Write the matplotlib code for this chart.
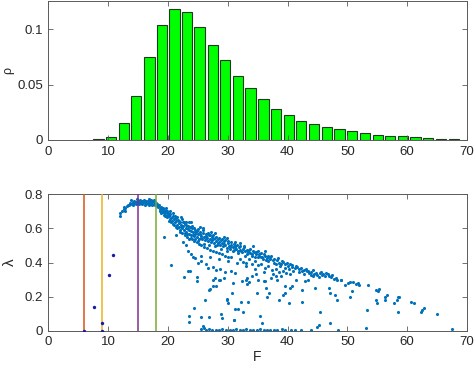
import matplotlib
matplotlib.use("Agg")
import matplotlib.pyplot as plt
import numpy as np

plt.rcParams['font.family'] = ['Liberation Sans', 'DejaVu Sans']

# ---------------- top panel: histogram ----------------
bin_centers = [8.4, 10.5, 12.6, 14.7, 16.9, 19.0, 21.1, 23.2, 25.3, 27.5, 29.6,
               31.7, 33.8, 36.0, 38.1, 40.2, 42.3, 44.4, 46.6, 48.7, 50.8, 52.9,
               55.1, 57.2, 59.3, 61.4, 63.5, 65.7, 67.8]
rho = [0.0005, 0.003, 0.015, 0.040, 0.075, 0.1036, 0.1177, 0.1156, 0.1015,
       0.0853, 0.0724, 0.0574, 0.0468, 0.0366, 0.0279, 0.0222, 0.0174, 0.0141,
       0.0117, 0.0099, 0.0078, 0.0060, 0.0045, 0.0036, 0.0033, 0.0024, 0.0018,
       0.0012, 0.0006]

# ---------------- bottom panel: scatter ----------------
# main band (plateau + decay)
band_F = [11.9, 12.4, 12.6, 12.9, 13.1, 13.3, 13.5, 13.7, 13.6, 14.0, 14.1, 14.3, 14.4, 14.6, 14.7,
          14.9, 15.0, 15.2, 15.3, 15.5, 15.6, 15.7, 15.9, 16.0, 16.1, 16.3, 16.4, 16.6, 16.7, 16.8,
          17.0, 17.1, 17.2, 17.4, 17.5, 17.6, 17.8, 17.9, 18.0, 18.1, 18.3, 18.4, 18.5, 18.7, 18.8,
          19.0, 19.1, 19.2, 19.4, 19.5, 19.7, 19.8, 19.9, 20.0, 20.2, 20.3, 20.4, 20.6, 20.7, 20.9,
          21.0, 21.1, 21.3, 21.4, 21.5, 21.7, 21.8, 21.9, 22.1, 22.2, 22.3, 22.5, 22.6, 22.7, 22.9,
          23.0, 23.1, 23.3, 23.4, 23.5, 23.7, 23.8, 23.9, 24.1, 24.2, 24.3, 24.5, 24.6, 24.8, 24.9,
          25.0, 25.2, 25.3, 25.5, 25.7, 25.8, 26.0, 26.2, 26.3, 26.5, 26.7, 26.8, 27.0, 27.2, 27.3,
          27.5, 27.7, 27.8, 28.0, 28.2, 28.3, 28.5, 28.7, 28.9, 29.0, 29.2, 29.4, 29.6, 29.8, 30.0,
          30.2, 30.4, 30.6, 30.8, 31.0, 31.2, 31.4, 31.7, 31.9, 32.1, 32.4, 32.6, 32.9, 33.2, 33.5,
          33.8, 34.1, 34.4, 34.7, 35.0, 35.3, 35.6, 35.9, 36.2, 36.5, 36.8, 37.1, 37.5, 37.8, 38.2,
          38.5, 38.9, 39.3, 39.6, 40.0, 40.4, 40.8, 41.2, 41.6, 42.0, 42.4, 42.8, 43.2, 43.6, 44.0,
          44.5, 45.0, 45.4, 45.8, 46.3, 46.8, 47.2, 47.7, 48.1,
          13.8, 14.2, 14.8, 15.4, 16.2, 16.9, 17.3, 17.7, 18.2, 18.6, 18.9, 19.3, 19.6,
          12.0, 12.7, 12.9]
band_L = [0.672, 0.700, 0.712, 0.720, 0.730, 0.735, 0.740, 0.745, 0.750, 0.745, 0.755, 0.750, 0.760, 0.745, 0.755,
          0.750, 0.760, 0.745, 0.755, 0.750, 0.760, 0.742, 0.755, 0.765, 0.748, 0.758, 0.745, 0.762, 0.750, 0.770,
          0.755, 0.745, 0.765, 0.752, 0.760, 0.742, 0.755, 0.735, 0.748, 0.730, 0.740, 0.725, 0.735, 0.715, 0.728,
          0.705, 0.720, 0.695, 0.710, 0.688, 0.700, 0.680, 0.665, 0.690, 0.675, 0.655, 0.685, 0.665, 0.645, 0.672,
          0.655, 0.635, 0.660, 0.642, 0.620, 0.650, 0.630, 0.610, 0.640, 0.620, 0.600, 0.635, 0.612, 0.592, 0.625,
          0.605, 0.580, 0.615, 0.595, 0.570, 0.610, 0.585, 0.562, 0.600, 0.578, 0.555, 0.590, 0.570, 0.550, 0.585,
          0.565, 0.540, 0.578, 0.558, 0.535, 0.572, 0.550, 0.530, 0.565, 0.545, 0.525, 0.560, 0.540, 0.518, 0.552,
          0.535, 0.512, 0.545, 0.528, 0.505, 0.540, 0.520, 0.500, 0.532, 0.512, 0.495, 0.525, 0.505, 0.488, 0.515,
          0.498, 0.480, 0.505, 0.490, 0.475, 0.498, 0.482, 0.468, 0.490, 0.475, 0.460, 0.480, 0.465, 0.450, 0.472,
          0.455, 0.440, 0.462, 0.448, 0.430, 0.450, 0.435, 0.420, 0.440, 0.425, 0.410, 0.430, 0.412, 0.400, 0.415,
          0.400, 0.390, 0.405, 0.390, 0.378, 0.390, 0.375, 0.365, 0.372, 0.360, 0.350, 0.358, 0.348, 0.338, 0.345,
          0.335, 0.328, 0.338, 0.325, 0.320, 0.330, 0.315, 0.305, 0.310,
          0.765, 0.740, 0.770, 0.765, 0.740, 0.740, 0.738, 0.765, 0.745, 0.700, 0.690, 0.680, 0.720,
          0.690, 0.725, 0.705]

# additional points filling the thick part of the band
fill_F = [19.2, 19.5, 19.8, 20.1, 20.3, 20.5, 20.8, 20.9, 21.2, 21.4, 21.6, 21.9, 22.0, 22.3, 22.4,
          22.7, 22.8, 23.1, 23.2, 23.5, 23.6, 23.9, 24.0, 24.2, 24.4, 24.6, 24.7, 25.0, 25.1, 25.4,
          25.6, 25.9, 26.0, 26.3, 26.4, 26.7, 26.9, 27.1, 27.3, 27.6, 27.8, 28.1, 28.3, 28.6, 28.8,
          29.1, 29.3, 29.6, 29.8, 30.1, 30.3, 30.6, 30.9, 31.1, 31.3, 31.6, 31.8, 32.0, 32.3, 32.7,
          32.9, 33.2, 33.4, 33.7, 34.0, 34.3, 34.6, 34.8, 35.2, 35.5, 35.8, 36.1, 36.4, 36.7, 37.0,
          37.3, 37.7, 38.0, 38.4, 38.7, 39.1, 39.5, 39.9, 40.3, 40.7, 41.0, 41.4, 41.9, 42.3, 42.7,
          43.1, 43.5, 43.9, 44.3, 44.8, 45.2, 45.6, 46.0, 46.5, 47.0, 47.5, 48.3, 49.0, 50.5, 51.0]
fill_L = [0.715, 0.670, 0.700, 0.645, 0.700, 0.660, 0.690, 0.625, 0.675, 0.610, 0.665, 0.645, 0.580, 0.655, 0.610,
          0.640, 0.575, 0.620, 0.565, 0.635, 0.590, 0.545, 0.615, 0.560, 0.605, 0.535, 0.580, 0.595, 0.525, 0.570,
          0.545, 0.590, 0.510, 0.555, 0.535, 0.575, 0.505, 0.560, 0.530, 0.560, 0.495, 0.550, 0.515, 0.545, 0.480,
          0.540, 0.510, 0.530, 0.470, 0.525, 0.490, 0.520, 0.465, 0.510, 0.490, 0.500, 0.455, 0.495, 0.470, 0.490,
          0.440, 0.475, 0.460, 0.480, 0.450, 0.470, 0.430, 0.460, 0.440, 0.455, 0.430, 0.450, 0.415, 0.440, 0.420,
          0.440, 0.420, 0.390, 0.425, 0.380, 0.410, 0.370, 0.395, 0.360, 0.385, 0.350, 0.380, 0.345, 0.370, 0.335,
          0.360, 0.350, 0.325, 0.355, 0.340, 0.315, 0.345, 0.330, 0.340, 0.320, 0.325, 0.300, 0.300, 0.285, 0.285]

# lower edge / upper edge of the band and a secondary branch
branch_F = [20.5, 21.0, 21.5, 22.0, 22.4, 22.8, 23.2, 23.6, 24.0, 24.4, 24.8, 25.2, 25.6, 26.1, 26.6,
            27.1, 27.6, 28.1, 28.6, 29.1, 29.6, 30.1, 30.6,
            22.2, 23.1, 23.8, 25.3, 25.9, 27.2, 27.9, 29.3, 29.8, 31.2, 32.1, 32.8, 34.2, 35.1, 36.3,
            24.5, 25.1, 25.5, 26.3, 26.7, 27.5, 28.1, 28.7, 29.5, 30.5, 31.3,
            32.1, 32.6, 33.1, 33.6, 34.1, 34.6, 35.1, 35.6, 36.2, 36.8, 37.4, 38.0, 38.6, 39.2, 39.8, 40.4,
            19.3, 21.3, 22.5, 23.0, 23.4, 23.8, 24.2,
            25.5, 27.0, 28.5, 30.0, 31.5, 33.0, 34.5, 36.0, 37.5, 38.9, 27.8, 30.8, 34.7, 41.5, 43.0]
branch_L = [0.640, 0.620, 0.600, 0.590, 0.575, 0.560, 0.550, 0.540, 0.535, 0.525, 0.520, 0.510, 0.500, 0.490, 0.485,
            0.475, 0.470, 0.460, 0.455, 0.450, 0.440, 0.435, 0.430,
            0.665, 0.640, 0.635, 0.610, 0.605, 0.580, 0.575, 0.550, 0.545, 0.520, 0.515, 0.495, 0.495, 0.470, 0.465,
            0.425, 0.400, 0.410, 0.390, 0.370, 0.375, 0.355, 0.360, 0.345, 0.350, 0.338,
            0.420, 0.405, 0.400, 0.418, 0.392, 0.408, 0.386, 0.390, 0.368, 0.378, 0.356, 0.360, 0.342, 0.352, 0.338, 0.332,
            0.550, 0.560, 0.520, 0.500, 0.470, 0.450, 0.430,
            0.440, 0.430, 0.420, 0.410, 0.400, 0.380, 0.360, 0.345, 0.330, 0.320, 0.310, 0.280, 0.330, 0.300, 0.290]

# scattered points
sc_F = [20.5, 22.75, 23.3, 23.76, 24.8, 24.8, 23.6, 23.6, 24.3, 25.5, 26.2, 26.8, 26.9, 27.6, 28.7, 29.3,
        28.9, 29.1, 29.9, 30.0, 31.0, 31.2, 31.7, 32.2, 33.6, 33.2, 34.9, 35.4, 35.7, 36.6, 36.9, 35.1,
        36.3, 37.3, 38.2, 38.5, 39.3, 39.6, 40.4, 40.2, 42.4, 39.6, 40.8, 42.4, 44.6, 46.9, 47.1, 48.3,
        48.0, 49.6, 50.1, 50.5, 50.8, 51.5, 51.8, 45.5, 45.2, 45.0, 47.1, 48.5, 53.3, 53.2, 53.5, 54.8,
        55.1, 55.3, 54.8, 55.0, 56.3, 56.6, 56.3, 58.3, 58.5, 58.7, 57.8, 58.4, 60.7, 61.2, 62.4, 62.5,
        62.8, 65.0, 67.5, 27.1, 27.6, 28.0, 28.5, 32.4, 33.0, 33.3, 34.0, 36.0, 36.4, 38.0, 25.9, 26.1,
        29.8, 30.7, 32.6, 33.4, 31.1, 43.5, 44.2, 49.0, 52.0]
sc_L = [0.385, 0.313, 0.352, 0.352, 0.313, 0.293, 0.086, 0.053, 0.131, 0.082, 0.180, 0.082, 0.240, 0.297, 0.300, 0.310,
        0.100, 0.076, 0.186, 0.160, 0.063, 0.130, 0.130, 0.168, 0.285, 0.273, 0.220, 0.086, 0.047, 0.196, 0.220, 0.300,
        0.290, 0.310, 0.300, 0.180, 0.210, 0.260, 0.250, 0.164, 0.170, 0.220, 0.260, 0.240, 0.250, 0.250, 0.220, 0.180,
        0.210, 0.270, 0.280, 0.200, 0.230, 0.275, 0.280, 0.112, 0.033, 0.023, 0.043, 0.004, 0.121, 0.014, 0.268, 0.240,
        0.230, 0.245, 0.180, 0.165, 0.200, 0.210, 0.180, 0.180, 0.200, 0.200, 0.165, 0.110, 0.170, 0.165, 0.110, 0.120,
        0.135, 0.098, 0.010, 0.245, 0.260, 0.260, 0.300, 0.290, 0.300, 0.310, 0.320, 0.290, 0.250, 0.320, 0.030, 0.015,
        0.180, 0.220, 0.110, 0.170, 0.063, 0.300, 0.320, 0.300, 0.270]

# bottom row close to zero
low_F = [25.6, 26.3, 26.9, 27.4, 28.0, 28.6, 29.1, 29.7, 30.3, 30.9, 31.4, 32.0, 32.6, 33.1, 33.7,
         34.3, 34.9, 35.4, 36.0, 36.6, 37.1, 37.7, 38.3, 39.0, 39.6, 40.5, 41.3, 42.3, 44.0]
low_L = [0.010, 0.004, 0.008, 0.003, 0.006, 0.002, 0.009, 0.004, 0.007, 0.003, 0.010, 0.005, 0.002, 0.008, 0.004,
         0.006, 0.003, 0.009, 0.005, 0.002, 0.007, 0.004, 0.003, 0.008, 0.005, 0.004, 0.006, 0.003, 0.005]

# dark points at low F
dark_F = [6.0, 7.6, 9.0, 9.0, 10.1, 10.8]
dark_L = [0.0, 0.137, 0.0, 0.047, 0.326, 0.444]

vlines_F = [6, 9, 15, 18]
vline_colors = ['#D95319', '#EDB120', '#7E2F8E', '#77AC30']

# ---------------- figure ----------------
fig = plt.figure(figsize=(4.74, 3.69), dpi=100)
txt = '#262626'
spine_c = '#5a5a5a'

def style(ax):
    for s in ax.spines.values():
        s.set_color(spine_c)
        s.set_linewidth(0.7)
    ax.tick_params(direction='in', length=3.5, width=0.6, color=spine_c,
                   labelsize=9.5, labelcolor=txt, top=True, right=True, pad=4)

ax1 = fig.add_axes([0.102, 0.6206, 0.883, 0.3775])
ax1.bar(bin_centers, rho, width=1.72, color='#00FF00', edgecolor='#1f3a1f', linewidth=0.8)
ax1.set_xlim(0, 70)
ax1.set_ylim(0, 0.1255)
ax1.set_xticks(range(0, 71, 10))
ax1.set_yticks([0, 0.05, 0.1])
ax1.set_yticklabels(['0', '0.05', '0.1'])
ax1.set_ylabel('ρ', fontsize=9, color=txt)
ax1.yaxis.set_label_coords(-0.082, 0.5)
style(ax1)

ax2 = fig.add_axes([0.102, 0.1038, 0.883, 0.3696])
allF = band_F + fill_F + branch_F + sc_F + low_F
allL = band_L + fill_L + branch_L + sc_L + low_L
ax2.scatter(allF, allL, s=5, color='#0072BD', linewidths=0, zorder=2)
ax2.scatter(dark_F, dark_L, s=6, color='#1a1aa0', linewidths=0, zorder=4)
for xv, c in zip(vlines_F, vline_colors):
    ax2.axvline(xv, color=c, linewidth=1.1, zorder=3)
ax2.set_xlim(0, 70)
ax2.set_ylim(0, 0.8)
ax2.set_xticks(range(0, 71, 10))
ax2.set_yticks([0, 0.2, 0.4, 0.6, 0.8])
ax2.set_yticklabels(['0', '0.2', '0.4', '0.6', '0.8'])
ax2.set_xlabel('F', fontsize=10, color=txt, labelpad=1)
ax2.set_ylabel('λ', fontsize=11, color=txt)
ax2.yaxis.set_label_coords(-0.075, 0.5)
style(ax2)

fig.savefig('out.png', dpi=100)
